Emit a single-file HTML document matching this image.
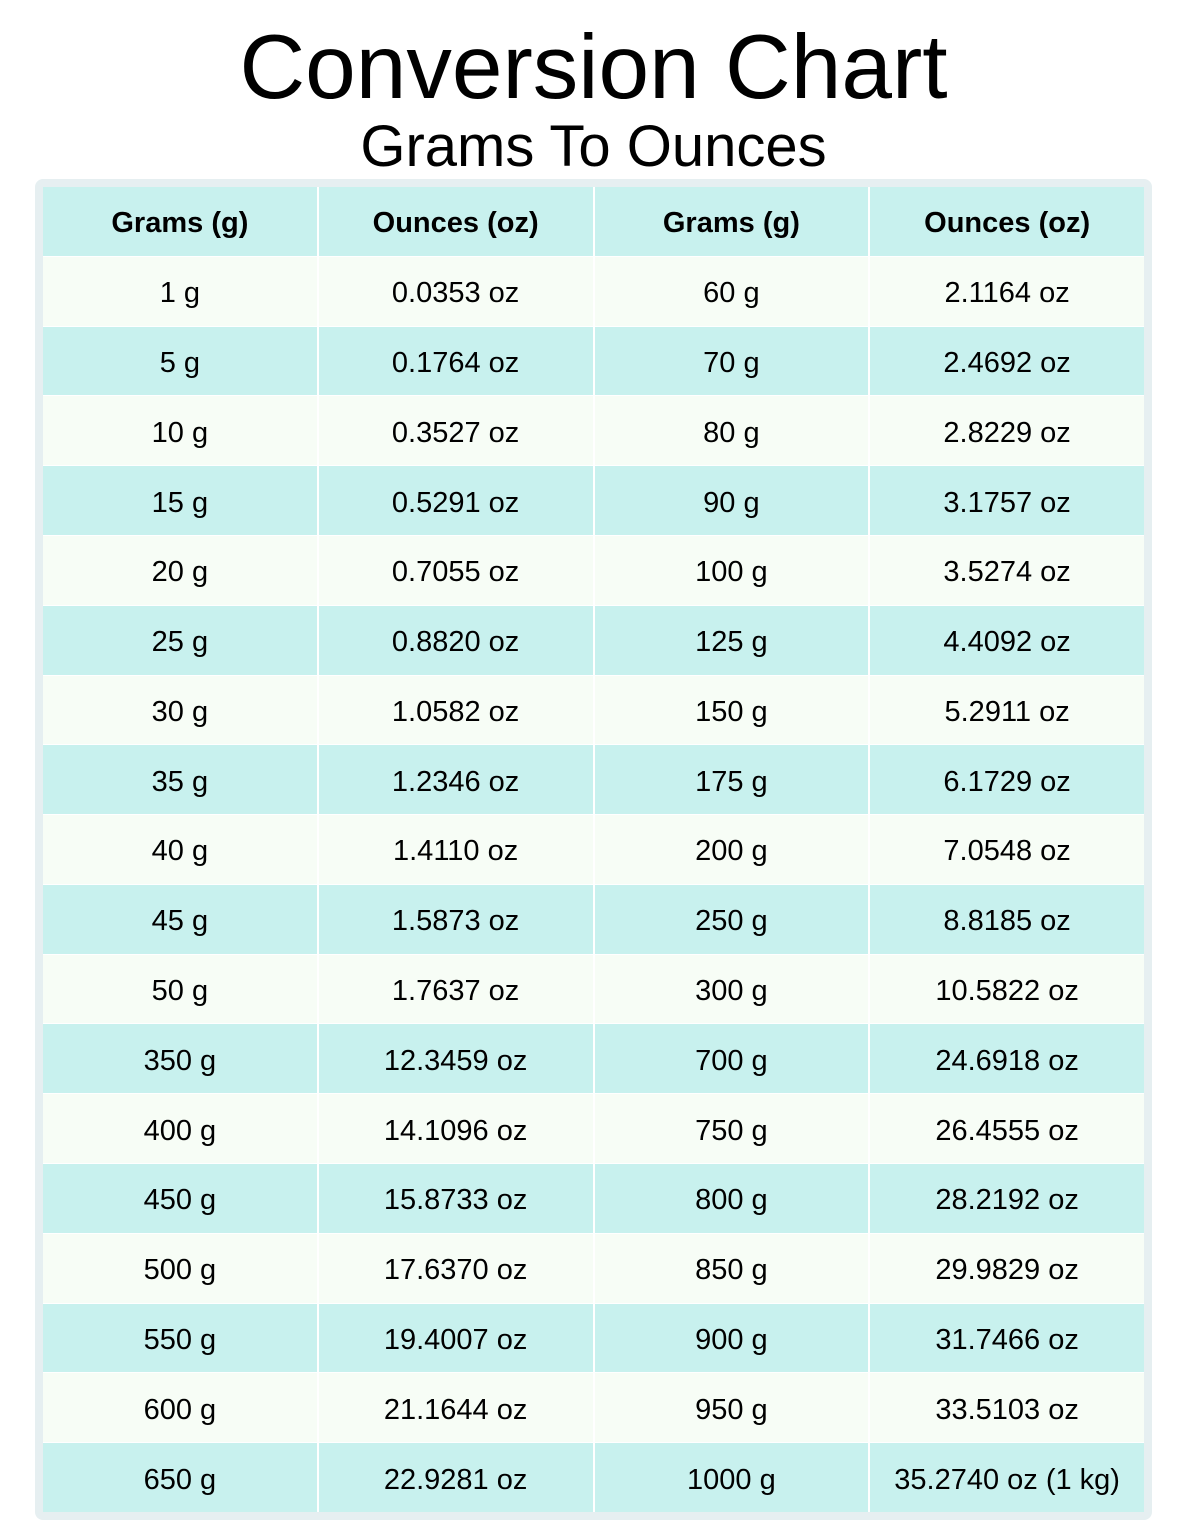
<!DOCTYPE html>
<html>
<head>
<meta charset="utf-8">
<style>
  html, body { margin:0; padding:0; background:#ffffff; }
  body { width:1187px; height:1536px; position:relative; overflow:hidden;
         font-family:"Liberation Sans", Arial, sans-serif; color:#000; }
  .title { position:absolute; left:0; width:1187px; text-align:center; top:22px;
           font-size:91px; line-height:91px; white-space:nowrap; }
  .sub { position:absolute; left:0; width:1187px; text-align:center; top:118px;
         font-size:58px; line-height:58px; white-space:nowrap; }
  .frame { position:absolute; left:35px; top:179px; width:1117px; height:1341px;
           background:#e6eff1; border-radius:8px; }
  .grid { position:absolute; left:43px; top:187px; width:1101px; height:1325px;
          background:#ffffff; display:grid;
          grid-template-columns: repeat(4, 1fr); column-gap:2px;
          grid-template-rows: repeat(19, 1fr); row-gap:1px; }
  .grid div { display:flex; align-items:center; justify-content:center;
              font-size:29px; white-space:nowrap; padding-top:5px; box-sizing:border-box; }
  .h { background:#c8f1ee; font-weight:bold; }
  .a { background:#f7fdf6; }
  .b { background:#c8f1ee; }
</style>
</head>
<body>
<div class="title">Conversion Chart</div>
<div class="sub">Grams To Ounces</div>
<div class="frame"></div>
<div class="grid">
  <div class="h">Grams (g)</div><div class="h">Ounces (oz)</div><div class="h">Grams (g)</div><div class="h">Ounces (oz)</div>
  <div class="a">1 g</div><div class="a">0.0353 oz</div><div class="a">60 g</div><div class="a">2.1164 oz</div>
  <div class="b">5 g</div><div class="b">0.1764 oz</div><div class="b">70 g</div><div class="b">2.4692 oz</div>
  <div class="a">10 g</div><div class="a">0.3527 oz</div><div class="a">80 g</div><div class="a">2.8229 oz</div>
  <div class="b">15 g</div><div class="b">0.5291 oz</div><div class="b">90 g</div><div class="b">3.1757 oz</div>
  <div class="a">20 g</div><div class="a">0.7055 oz</div><div class="a">100 g</div><div class="a">3.5274 oz</div>
  <div class="b">25 g</div><div class="b">0.8820 oz</div><div class="b">125 g</div><div class="b">4.4092 oz</div>
  <div class="a">30 g</div><div class="a">1.0582 oz</div><div class="a">150 g</div><div class="a">5.2911 oz</div>
  <div class="b">35 g</div><div class="b">1.2346 oz</div><div class="b">175 g</div><div class="b">6.1729 oz</div>
  <div class="a">40 g</div><div class="a">1.4110 oz</div><div class="a">200 g</div><div class="a">7.0548 oz</div>
  <div class="b">45 g</div><div class="b">1.5873 oz</div><div class="b">250 g</div><div class="b">8.8185 oz</div>
  <div class="a">50 g</div><div class="a">1.7637 oz</div><div class="a">300 g</div><div class="a">10.5822 oz</div>
  <div class="b">350 g</div><div class="b">12.3459 oz</div><div class="b">700 g</div><div class="b">24.6918 oz</div>
  <div class="a">400 g</div><div class="a">14.1096 oz</div><div class="a">750 g</div><div class="a">26.4555 oz</div>
  <div class="b">450 g</div><div class="b">15.8733 oz</div><div class="b">800 g</div><div class="b">28.2192 oz</div>
  <div class="a">500 g</div><div class="a">17.6370 oz</div><div class="a">850 g</div><div class="a">29.9829 oz</div>
  <div class="b">550 g</div><div class="b">19.4007 oz</div><div class="b">900 g</div><div class="b">31.7466 oz</div>
  <div class="a">600 g</div><div class="a">21.1644 oz</div><div class="a">950 g</div><div class="a">33.5103 oz</div>
  <div class="b">650 g</div><div class="b">22.9281 oz</div><div class="b">1000 g</div><div class="b">35.2740 oz (1 kg)</div>
</div>
</body>
</html>
